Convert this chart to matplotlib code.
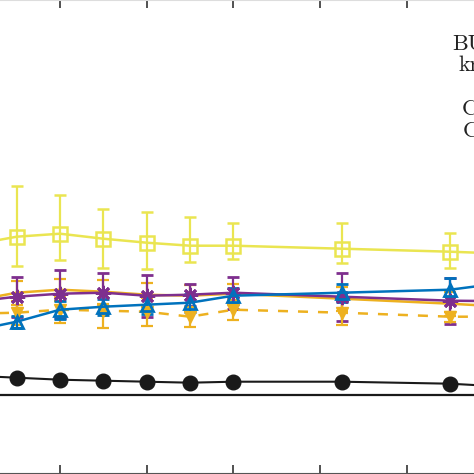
import matplotlib as mpl
mpl.use('Agg')
import matplotlib.pyplot as plt

# x positions of the samples (first and last lie just outside the visible window)
x = [0, 5, 10, 15, 20, 25, 30, 42.5, 55, 67.5]
xticks = [10, 20, 30, 40, 50]

# yellow squares
y_sq = [15.0, 15.8, 16.1, 15.6, 15.2, 14.9, 14.9, 14.6, 14.3, 13.9]
sq_up = [3.0, 5.1, 3.9, 3.0, 3.1, 2.9, 2.3, 2.6, 1.9, 1.9]
sq_dn = [2.0, 2.9, 2.6, 2.9, 2.6, 1.6, 1.3, 1.4, 1.6, 1.6]

# orange solid
y_or = [9.4, 10.2, 10.5, 10.3, 10.0, 9.9, 10.1, 9.6, 9.1, 8.5]
or_err = [1.2, 1.2, 1.1, 1.2, 1.2, 1.1, 1.0, 1.2, 1.2, 1.2]

# purple asterisks
y_pu = [9.3, 9.8, 10.1, 10.2, 9.9, 10.0, 10.2, 9.8, 9.4, 9.3]
pu_err = [2.0, 2.0, 2.4, 2.0, 2.1, 1.1, 1.6, 2.4, 2.3, 2.3]

# orange dashed, down triangles
y_od = [8.1, 8.2, 8.5, 8.4, 8.3, 7.8, 8.5, 8.2, 7.8, 7.8]
od_err = [1.2, 1.2, 1.3, 1.7, 1.4, 1.0, 1.0, 1.2, 0.5, 0.5]

# blue up triangles
y_bl = [6.4, 7.3, 8.5, 8.8, 9.0, 9.2, 9.9, 10.2, 10.5, 11.9]
bl_err = [0.6, 0.6, 0.9, 0.8, 0.9, 0.9, 0.8, 0.9, 1.2, 1.2]

# black circles
y_bk = [1.9, 1.7, 1.5, 1.4, 1.3, 1.2, 1.3, 1.3, 1.1, 0.5]

fig = plt.figure(figsize=(4.74, 4.74), dpi=100)
ax = fig.add_axes([0, 1.3/474, 1, 472.7/474])

kw = dict(lw=1.8, capsize=4, elinewidth=1.6, capthick=1.6)
ax.errorbar(x, y_sq, yerr=[sq_dn, sq_up], color='#EAE551', marker='s', mfc='none',
            ms=9.5, mew=1.8, **kw)
ax.errorbar(x, y_or, yerr=or_err, color='#EDB120', **kw)
ax.errorbar(x, y_pu, yerr=pu_err, color='#7E2F8E', marker=(8, 2, 0), ms=11,
            mew=2, **kw)
ax.errorbar(x, y_od, yerr=od_err, color='#EDB120', marker='v', ms=9, ls='--',
            dashes=(4, 4), **kw)
ax.errorbar(x, y_bl, yerr=bl_err, color='#0072BD', marker='^', mfc='none', ms=9,
            mew=2, **kw)
ax.plot(x, y_bk, color='#1a1a1a', marker='o', ms=10.5, lw=1.5)
ax.axhline(0, color='#1a1a1a', lw=1.6)

ax.set_xlim(3.08, 57.75)
ax.set_ylim(-7.8, 39.47)
ax.set_xticks(xticks)
ax.set_xticklabels([])
ax.set_yticks([])
ax.tick_params(axis='x', direction='in', top=True, bottom=True, length=6, width=1.1,
               color='#222222')
ax.spines['left'].set_visible(False)
ax.spines['right'].set_visible(False)
ax.spines['bottom'].set_color('#555555')
ax.spines['top'].set_color('#dddddd')

# legend text, cut by the right edge as in the source figure
for s, px, py in [('BU', 452, 50), ('kn', 458, 71), ('C', 462, 115), ('C', 463, 137)]:
    fig.text(px/474, 1 - py/474, s, family='cmr10', fontsize=16,
             va='baseline', ha='left', color='#222222')

fig.savefig('out.png', dpi=100)
